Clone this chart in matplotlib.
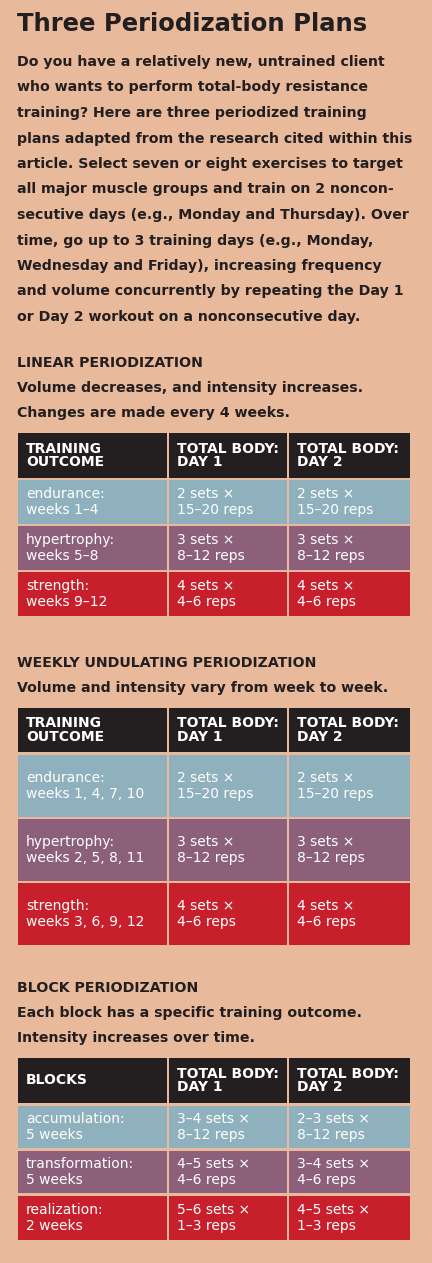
import matplotlib.pyplot as plt
from matplotlib.patches import Rectangle

W, H = 432, 1263
BG = "#e9b99c"
DARK = "#231f20"
ROW_COLORS = ["#8fb0bd", "#8c5f7b", "#c81f2c"]

title = "Three Periodization Plans"
intro = [
    "Do you have a relatively new, untrained client",
    "who wants to perform total-body resistance",
    "training? Here are three periodized training",
    "plans adapted from the research cited within this",
    "article. Select seven or eight exercises to target",
    "all major muscle groups and train on 2 noncon-",
    "secutive days (e.g., Monday and Thursday). Over",
    "time, go up to 3 training days (e.g., Monday,",
    "Wednesday and Friday), increasing frequency",
    "and volume concurrently by repeating the Day 1",
    "or Day 2 workout on a nonconsecutive day.",
]

headings = ["LINEAR PERIODIZATION", "WEEKLY UNDULATING PERIODIZATION", "BLOCK PERIODIZATION"]
notes = [
    ["Volume decreases, and intensity increases.", "Changes are made every 4 weeks."],
    ["Volume and intensity vary from week to week."],
    ["Each block has a specific training outcome.", "Intensity increases over time."],
]
col_heads = [
    ["TRAINING\nOUTCOME", "TOTAL BODY:\nDAY 1", "TOTAL BODY:\nDAY 2"],
    ["TRAINING\nOUTCOME", "TOTAL BODY:\nDAY 1", "TOTAL BODY:\nDAY 2"],
    ["BLOCKS", "TOTAL BODY:\nDAY 1", "TOTAL BODY:\nDAY 2"],
]
outcomes = [
    ["endurance:\nweeks 1\u20134", "hypertrophy:\nweeks 5\u20138", "strength:\nweeks 9\u201312"],
    ["endurance:\nweeks 1, 4, 7, 10", "hypertrophy:\nweeks 2, 5, 8, 11", "strength:\nweeks 3, 6, 9, 12"],
    ["accumulation:\n5 weeks", "transformation:\n5 weeks", "realization:\n2 weeks"],
]
day1 = [
    ["2 sets \u00d7\n15\u201320 reps", "3 sets \u00d7\n8\u201312 reps", "4 sets \u00d7\n4\u20136 reps"],
    ["2 sets \u00d7\n15\u201320 reps", "3 sets \u00d7\n8\u201312 reps", "4 sets \u00d7\n4\u20136 reps"],
    ["3\u20134 sets \u00d7\n8\u201312 reps", "4\u20135 sets \u00d7\n4\u20136 reps", "5\u20136 sets \u00d7\n1\u20133 reps"],
]
day2 = [
    ["2 sets \u00d7\n15\u201320 reps", "3 sets \u00d7\n8\u201312 reps", "4 sets \u00d7\n4\u20136 reps"],
    ["2 sets \u00d7\n15\u201320 reps", "3 sets \u00d7\n8\u201312 reps", "4 sets \u00d7\n4\u20136 reps"],
    ["2\u20133 sets \u00d7\n8\u201312 reps", "3\u20134 sets \u00d7\n4\u20136 reps", "4\u20135 sets \u00d7\n1\u20133 reps"],
]

# layout (pixels)
section_y = [363, 663, 988]
header_box = [(433, 478), (708, 752), (1058, 1103)]
row_boxes = [
    [(480, 524), (526, 570), (572, 616)],
    [(755, 817), (819, 881), (883, 945)],
    [(1106, 1148), (1151, 1193), (1196, 1240)],
]
cols = [(18, 167), (169, 287), (289, 410)]

fig = plt.figure(figsize=(W / 100, H / 100), dpi=100)
fig.patch.set_facecolor(BG)
ax = fig.add_axes([0, 0, 1, 1])
ax.set_xlim(0, W)
ax.set_ylim(H, 0)
ax.axis("off")

font = "DejaVu Sans"
ax.text(17, 24, title, fontsize=17.5, fontweight="bold", color=DARK, va="center", family=font)
for i, line in enumerate(intro):
    ax.text(17, 62 + i * 25.5, line, fontsize=10.2, fontweight="bold", color=DARK, va="center", family=font)

for s in range(3):
    y0 = section_y[s]
    ax.text(17, y0, headings[s], fontsize=10.2, fontweight="bold", color=DARK, va="center")
    for j, n in enumerate(notes[s]):
        ax.text(17, y0 + 25 + j * 25, n, fontsize=10.2, fontweight="bold", color=DARK, va="center")
    t, b = header_box[s]
    for c, (x0, x1) in enumerate(cols):
        ax.add_patch(Rectangle((x0, t), x1 - x0, b - t, color=DARK, lw=0))
        ax.text(x0 + 8, (t + b) / 2, col_heads[s][c], fontsize=10, fontweight="bold",
                color="white", va="center", linespacing=0.95)
    for r, (rt, rb) in enumerate(row_boxes[s]):
        texts = [outcomes[s][r], day1[s][r], day2[s][r]]
        for c, (x0, x1) in enumerate(cols):
            ax.add_patch(Rectangle((x0, rt), x1 - x0, rb - rt, color=ROW_COLORS[r], lw=0))
            ax.text(x0 + 8, (rt + rb) / 2, texts[c], fontsize=10, color="white",
                    va="center", linespacing=1.15)

fig.savefig("out.png", dpi=100, facecolor=BG)
